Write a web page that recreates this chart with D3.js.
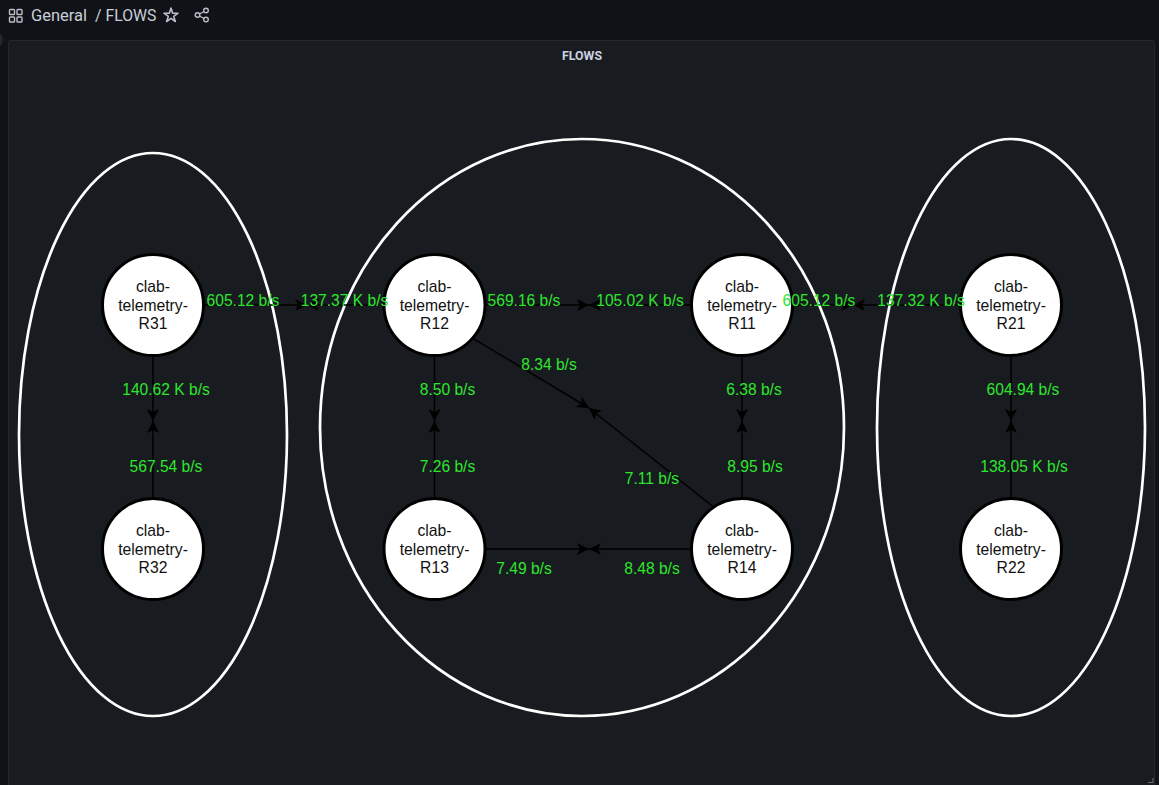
<!DOCTYPE html>
<html lang="en">
<head>
    <meta charset="UTF-8">
    <title>FLOWS</title>
    <style>
        html, body{
            margin:0;
            padding:0;
            background:#111217;
            overflow:hidden;
        }
    </style>
    <script src="https://cdn.jsdelivr.net/npm/d3@7/dist/d3.min.js"></script>
</head>
<body>
<script>

// routers, and the cell of the layout grid each one sits in
var nodeNames = ["R31", "R32", "R12", "R13", "R11", "R14", "R21", "R22"];
var nodeCols = ["a", "a", "b", "b", "c", "c", "d", "d"];
var nodeRows = ["top", "bottom", "top", "bottom", "top", "bottom", "top", "bottom"];

// one entry per measured direction of a link
var flowSource = ["R31", "R12", "R12", "R11", "R11", "R21", "R31", "R32", "R12", "R13", "R11", "R14", "R21", "R22", "R12", "R14", "R13", "R14"];
var flowTarget = ["R12", "R31", "R11", "R12", "R21", "R11", "R32", "R31", "R13", "R12", "R14", "R11", "R22", "R21", "R14", "R12", "R14", "R13"];
var flowValues = [605.12, 137370, 569.16, 105020, 605.12, 137320, 140620, 567.54, 8.50, 7.26, 6.38, 8.95, 604.94, 138050, 8.34, 7.11, 7.49, 8.48];

var groupNames = ["left", "middle", "right"];

var w = 1159;
var h = 785;
var nodeR = 50.5;

var xScale = d3.scaleOrdinal()
        .domain(["a", "b", "c", "d", "ab", "bc", "cd"])
        .range([153, 434.5, 742, 1011, 307, 589, 853]);
var yScale = d3.scaleOrdinal()
        .domain(["top", "bottom", "mid", "diag"])
        .range([305, 549, 421, 408]);

// where the two halves of each link meet, in flow order
var meetCols = ["ab", "ab", "bc", "bc", "cd", "cd", "a", "a", "b", "b", "c", "c", "d", "d", "bc", "bc", "bc", "bc"];
var meetRows = ["top", "top", "top", "top", "top", "top", "mid", "mid", "mid", "mid", "mid", "mid", "mid", "mid", "diag", "diag", "bottom", "bottom"];
// label offset from the source router centre (text middle, baseline)
var labelDx = [90, -90, 89.5, -102, 77, -90, 13, 13, 13, 13, 12, 13, 12, 13, 114.5, -90, 89.5, -90];
var labelDy = [1, 1, 1, 1, 1, 1, 90, -77, 90, -77, 90, -77, 90, -77, 65, -65, 25, 25];

var groupBox = {
    left: {cx: 153, cy: 434.5, rx: 134, ry: 281.5},
    middle: {cx: 582, cy: 427.5, rx: 262, ry: 288.5},
    right: {cx: 1011, cy: 427.5, rx: 134, ry: 288.5}
};

function formatFlow(v) {
    return v >= 1000 ? (v / 1000).toFixed(2) + " K b/s" : v.toFixed(2) + " b/s";
}

function nodePos(name) {
    var i = nodeNames.indexOf(name);
    return {x: xScale(nodeCols[i]), y: yScale(nodeRows[i])};
}

var flows = flowValues.map(function (v, i) {
    return {
        source: nodePos(flowSource[i]),
        target: nodePos(flowTarget[i]),
        meet: {x: xScale(meetCols[i]), y: yScale(meetRows[i])},
        value: v,
        dx: labelDx[i],
        dy: labelDy[i],
        diagonal: meetRows[i] === "diag"
    };
});

var svg = d3.select("body")
        .append("svg")
        .attr("width", w)
        .attr("height", h)
        .style("display", "block");

svg.append("defs").append("marker")
        .attr("id", "arrow")
        .attr("markerUnits", "userSpaceOnUse")
        .attr("viewBox", "0 -6 12 12")
        .attr("refX", 12)
        .attr("refY", 0)
        .attr("markerWidth", 12)
        .attr("markerHeight", 12)
        .attr("orient", "auto")
        .append("path")
        .attr("d", "M0,-6L12,0L0,6L3,0Z")
        .attr("fill", "#000");

// page header
var header = svg.append("g").attr("fill", "none").attr("stroke", "#b8bec8").attr("stroke-width", 1.4);
[[9.5, 9.5], [17, 9.5], [9.5, 17], [17, 17]].forEach(function (p) {
    header.append("rect")
            .attr("x", p[0]).attr("y", p[1])
            .attr("width", 5).attr("height", 5)
            .attr("rx", 0.8);
});
header.append("path")
        .attr("d", d3.symbol().type(d3.symbolStar).size(62)())
        .attr("transform", "translate(171,15.5)")
        .attr("stroke-width", 1.6)
        .attr("stroke-linejoin", "round");
var shareDots = [[197.5, 15], [206, 10.5], [206, 19.5]];
header.append("path").attr("d", "M199.5,14L204,11.5M199.5,16L204,18.5");
shareDots.forEach(function (p) {
    header.append("circle").attr("cx", p[0]).attr("cy", p[1]).attr("r", 2.3);
});
svg.append("text")
        .attr("x", 31).attr("y", 20.5)
        .attr("font-family", "Roboto, sans-serif")
        .attr("font-size", "16.5px")
        .attr("fill", "#c7d0d9")
        .text("General");
svg.append("text")
        .attr("x", 95).attr("y", 20.5)
        .attr("font-family", "Roboto, sans-serif")
        .attr("font-size", "15.8px")
        .attr("fill", "#c7d0d9")
        .text("/ FLOWS");

// panel
svg.append("circle").attr("cx", -6).attr("cy", 40).attr("r", 9).attr("fill", "#22252b");
svg.append("rect")
        .attr("x", 8.5).attr("y", 40.5)
        .attr("width", 1146).attr("height", 760)
        .attr("rx", 2)
        .attr("fill", "#181b1f")
        .attr("stroke", "#24272c");
svg.append("text")
        .attr("x", 582).attr("y", 60)
        .attr("text-anchor", "middle")
        .attr("font-family", "Roboto, sans-serif")
        .attr("font-size", "12.4px")
        .attr("font-weight", 700)
        .attr("fill", "#ccd1e0")
        .text("FLOWS");
svg.append("path")
        .attr("d", "M1153,778V782.5H1148")
        .attr("fill", "none")
        .attr("stroke", "#6e7077")
        .attr("stroke-width", 1);

svg.selectAll(".group")
        .data(groupNames)
        .enter()
        .append("ellipse")
        .attr("class", "group")
        .attr("cx", function (d) { return groupBox[d].cx; })
        .attr("cy", function (d) { return groupBox[d].cy; })
        .attr("rx", function (d) { return groupBox[d].rx; })
        .attr("ry", function (d) { return groupBox[d].ry; })
        .attr("fill", "none")
        .attr("stroke", "#fff")
        .attr("stroke-width", 2.7);

// links run from the edge of the source router to the meeting point
function startPoint(d) {
    var a = Math.atan2(d.meet.y - d.source.y, d.meet.x - d.source.x);
    if (d.diagonal) {
        // diagonal links leave the circle a little below the straight line
        a = d.source.x < d.meet.x ? 41 * Math.PI / 180 : -124 * Math.PI / 180;
    }
    return {x: d.source.x + nodeR * Math.cos(a), y: d.source.y + nodeR * Math.sin(a)};
}

svg.selectAll(".flow")
        .data(flows)
        .enter()
        .append("line")
        .attr("class", "flow")
        .attr("x1", function (d) { return startPoint(d).x; })
        .attr("y1", function (d) { return startPoint(d).y; })
        .attr("x2", function (d) { return d.meet.x; })
        .attr("y2", function (d) { return d.meet.y; })
        .attr("stroke", "#000")
        .attr("stroke-width", 1.5)
        .attr("marker-end", "url(#arrow)");

var node = svg.selectAll(".node")
        .data(nodeNames)
        .enter()
        .append("g")
        .attr("class", "node")
        .attr("transform", function (d) {
            var p = nodePos(d);
            return "translate(" + p.x + "," + p.y + ")";
        });

node.append("circle")
        .attr("r", nodeR)
        .attr("fill", "#fff")
        .attr("stroke", "#000")
        .attr("stroke-width", 3);

node.each(function (d) {
    var lines = ["clab-", "telemetry-", d];
    d3.select(this).selectAll("text")
            .data(lines)
            .enter()
            .append("text")
            .attr("y", function (t, i) { return -13 + i * 18.7; })
            .attr("text-anchor", "middle")
            .attr("font-family", "'Liberation Sans', Arial, sans-serif")
            .attr("font-size", "15.7px")
            .attr("fill", "#111")
            .text(function (t) { return t; });
});

// labels sit on top of everything, they overlap the routers
svg.selectAll(".flow-label")
        .data(flows)
        .enter()
        .append("text")
        .attr("class", "flow-label")
        .attr("x", function (d) { return d.source.x + d.dx; })
        .attr("y", function (d) { return d.source.y + d.dy; })
        .attr("text-anchor", "middle")
        .attr("font-family", "'Liberation Sans', Arial, sans-serif")
        .attr("font-size", "15.6px")
        .attr("fill", "#2ee62e")
        .text(function (d) { return formatFlow(d.value); });

</script>
</body>
</html>
